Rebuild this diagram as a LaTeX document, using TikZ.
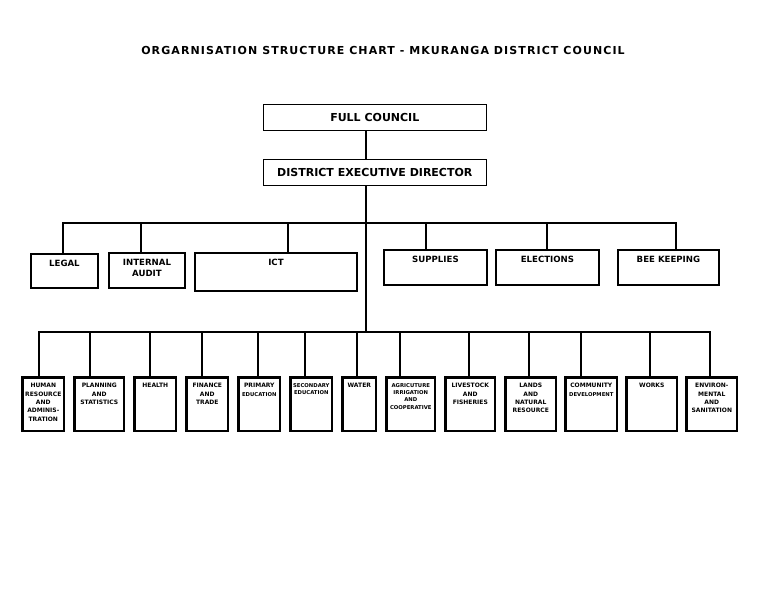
\documentclass[tikz,border=0pt]{standalone}
\usepackage{fontspec}
\setmainfont{DejaVu Sans}
\newfontfamily\titlefont{DejaVu Sans}[LetterSpace=10]
\usetikzlibrary{calc}
\newcommand\topfont{\bfseries\fontsize{11}{13}\selectfont}
\newcommand\deptfont{\bfseries\fontsize{8.6}{11.5}\selectfont}
\newcommand\unitfont{\bfseries\fontsize{6}{8.3}\selectfont}
\newcommand\smallunit{\bfseries\fontsize{5.3}{7.2}\selectfont}

\begin{document}
\begin{tikzpicture}[x=1pt,y=-1pt,line join=miter,
 topbox/.style={draw,line width=1.6pt,anchor=north west,inner sep=0pt,font=\topfont},
 deptbox/.style={draw,line width=1.9pt,anchor=north west,inner sep=0pt},
 unitbox/.style={draw,line width=2.6pt,anchor=north west,inner sep=0pt},
 boxtext/.style={anchor=north,align=center,inner sep=0pt}]
 \useasboundingbox (0,0) rectangle (768,594);
 \node[font=\titlefont\bfseries\fontsize{11}{13}\selectfont] (title) at (383,50)
  {ORGARNISATION STRUCTURE CHART - MKURANGA DISTRICT COUNCIL};
 \node[topbox,minimum width=223pt,minimum height=26pt] (full) at (262.5,103.5) {FULL COUNCIL};
 \node[topbox,minimum width=223pt,minimum height=26pt] (ded) at (262.5,158.5) {DISTRICT EXECUTIVE DIRECTOR};
 \coordinate (spine) at (366,0);
 \coordinate (busA) at (366,223);
 \coordinate (busB) at (366,332);
 \draw[line width=2.4pt] (spine |- full.south) -- (spine |- ded.north);
 \draw[line width=2.6pt] (spine |- ded.south) -- (busB);
 \foreach \n/\xa/\ya/\xb/\yb/\dx/\txt in {legal/29/252/98/288/63/LEGAL,
   audit/107/251/185/288/141/{INTERNAL\\AUDIT}, ict/193/251/357/291/288/ICT,
   supplies/382/248/487/285/426/SUPPLIES, elections/494/248/599/285/547/ELECTIONS,
   bee/616/248/719/285/676/BEE KEEPING}
  {\pgfmathsetmacro{\w}{\xb-\xa-1.9}\pgfmathsetmacro{\h}{\yb-\ya-1.9}
   \node[deptbox,minimum width=\w pt,minimum height=\h pt] (\n) at (\xa+0.95,\ya+0.95) {};
   \node[boxtext,font=\deptfont] (\n-t) at ([yshift=-7pt]\n.north) {\txt};
   \coordinate (\n-up) at (\dx,223);
   \draw[line width=1.5pt] (\n-up) -- (\n-up |- \n.north);}
 \draw[line width=1.5pt] ([xshift=-0.75pt]legal-up) -- ([xshift=0.75pt]bee-up);
 \foreach \n/\xa/\xb/\dx/\f/\txt in {hr/20/64/39/\unitfont/{HUMAN\\RESOURCE\\AND\\ADMINIS-\\TRATION},
   plan/72/124/90/\unitfont/{PLANNING\\AND\\STATISTICS}, health/132/176/150/\unitfont/HEALTH,
   finance/184/228/202/\unitfont/{FINANCE\\AND\\TRADE},
   primary/236/280/258/\unitfont/{PRIMARY\\{\smallunit EDUCATION}},
   secondary/288/332/305/\smallunit/{SECONDARY\\EDUCATION}, water/340/376/357/\unitfont/WATER,
   agri/384/435/400/\smallunit/{AGRICUTURE\\IRRIGATION\\AND\\COOPERATIVE},
   livestock/443/495/469/\unitfont/{LIVESTOCK\\AND\\FISHERIES},
   lands/503/556/529/\unitfont/{LANDS\\AND\\NATURAL\\RESOURCE},
   community/563/617/581/\unitfont/{COMMUNITY\\{\smallunit DEVELOPMENT}},
   works/624/677/650/\unitfont/WORKS, env/684/737/710/\unitfont/{ENVIRON-\\MENTAL\\AND\\SANITATION}}
  {\pgfmathsetmacro{\w}{\xb-\xa-2.6}
   \node[unitbox,minimum width=\w pt,minimum height=53.4pt] (\n) at (\xa+1.3,376.3) {};
   \node[boxtext,font=\f] (\n-t) at ([yshift=-7pt]\n.north) {\txt};
   \coordinate (\n-up) at (\dx,332);
   \draw[line width=2pt] (\n-up) -- (\n-up |- \n.north);}
 \draw[line width=2.2pt] ([xshift=-1pt]hr-up) -- ([xshift=1pt]env-up);
\end{tikzpicture}
\end{document}
